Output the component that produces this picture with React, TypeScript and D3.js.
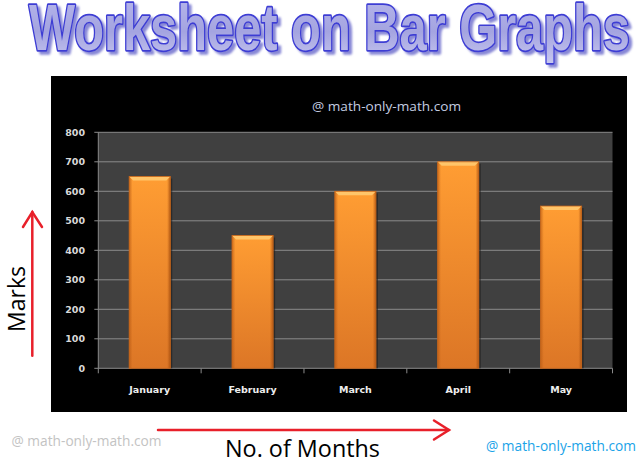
import React from "react";
import * as d3 from "d3";

const months = ["January", "February", "March", "April", "May"];
const marks = [650, 450, 600, 700, 550];
const yTicks = [0, 100, 200, 300, 400, 500, 600, 700, 800];
const title = "Worksheet on Bar Graphs";
const watermark = "@ math-only-math.com";
const xTitle = "No. of Months";
const yTitle = "Marks";

const W = 640;
const H = 467;

export default function App() {
  const plot = { left: 98.3, right: 612.5, top: 132.3, bottom: 368.3 };
  const x = d3
    .scaleBand<string>()
    .domain(months)
    .range([plot.left, plot.right])
    .paddingInner(0.6)
    .paddingOuter(0.3);
  const y = d3.scaleLinear().domain([0, 800]).range([plot.bottom, plot.top]);
  const step = x.step();
  const bw = x.bandwidth();
  const boundaries = d3.range(months.length + 1).map((i) => plot.left + i * step);

  const tickFont = "'DejaVu Sans', Verdana, sans-serif";
  const textFont = "'Open Sans', 'Noto Sans', sans-serif";

  return (
    <svg
      width={W}
      height={H}
      viewBox={`0 0 ${W} ${H}`}
      style={{ position: "absolute", left: 0, top: 0, background: "#fff" }}
    >
      <defs>
        <linearGradient id="barGrad" x1="0" y1="0" x2="0" y2="1">
          <stop offset="0%" stopColor="#ff9d33" />
          <stop offset="100%" stopColor="#dc7626" />
        </linearGradient>
        <linearGradient id="barSide" x1="0" y1="0" x2="1" y2="0">
          <stop offset="0%" stopColor="#b85a14" stopOpacity="0.7" />
          <stop offset="8%" stopColor="#b85a14" stopOpacity="0" />
          <stop offset="92%" stopColor="#b85a14" stopOpacity="0" />
          <stop offset="100%" stopColor="#a04c10" stopOpacity="0.8" />
        </linearGradient>
        <linearGradient id="titleGrad" x1="0" y1="0" x2="0" y2="1">
          <stop offset="0%" stopColor="#b8b8ec" />
          <stop offset="55%" stopColor="#a4a4e0" />
          <stop offset="100%" stopColor="#c8c8f0" />
        </linearGradient>
        <filter id="titleShadow" x="-5%" y="-20%" width="110%" height="140%">
          <feGaussianBlur in="SourceAlpha" stdDeviation="1.2" result="b" />
          <feOffset in="b" dx="3" dy="3" result="o" />
          <feFlood floodColor="#8888d6" result="c" />
          <feComposite in="c" in2="o" operator="in" result="s" />
          <feMerge>
            <feMergeNode in="s" />
            <feMergeNode in="SourceGraphic" />
          </feMerge>
        </filter>
      </defs>

      {/* Title (WordArt style) */}
      <text
        x={29}
        y={50}
        textLength={601}
        lengthAdjust="spacingAndGlyphs"
        fontFamily="'Liberation Sans', Arial, sans-serif"
        fontWeight="bold"
        fontSize={64}
        fill="url(#titleGrad)"
        stroke="#3c3cd4"
        strokeWidth={3.4}
        strokeLinejoin="round"
        paintOrder="stroke"
        filter="url(#titleShadow)"
      >
        {title}
      </text>

      {/* Chart panel */}
      <rect x={51} y={76} width={576} height={336} fill="#000" />
      <text
        x={386.5}
        y={111}
        textAnchor="middle"
        fontFamily={textFont}
        fontSize={13}
        fill="#c4cde0"
        textLength={149}
        lengthAdjust="spacingAndGlyphs"
      >
        {watermark}
      </text>

      <rect
        x={plot.left}
        y={plot.top}
        width={plot.right - plot.left}
        height={plot.bottom - plot.top}
        fill="#404040"
      />

      {/* gridlines */}
      {yTicks.map((t) => (
        <line
          key={"g" + t}
          x1={plot.left - 4}
          x2={plot.right}
          y1={y(t)}
          y2={y(t)}
          stroke="#8a8a8a"
          strokeWidth={1}
        />
      ))}
      {/* y axis line */}
      <line x1={plot.left} x2={plot.left} y1={plot.top} y2={plot.bottom} stroke="#8a8a8a" />
      {/* x ticks */}
      {boundaries.map((b, i) => (
        <line key={"xt" + i} x1={b} x2={b} y1={plot.bottom} y2={plot.bottom + 5} stroke="#8a8a8a" />
      ))}

      {/* bars */}
      {months.map((m, i) => {
        const bx = x(m) as number;
        const by = y(marks[i]);
        const bh = plot.bottom - by;
        return (
          <g key={m}>
            <rect x={bx + 2} y={by + 2} width={bw} height={bh - 2} fill="#1e1e1e" opacity={0.6} />
            <rect x={bx} y={by} width={bw} height={bh} fill="url(#barGrad)" />
            <rect x={bx} y={by} width={bw} height={bh} fill="url(#barSide)" />
            <polygon
              points={`${bx},${by} ${bx + bw},${by} ${bx + bw - 4},${by + 4} ${bx + 4},${by + 4}`}
              fill="#ffc56a"
            />
            <rect x={bx} y={by} width={bw} height={bh} fill="none" stroke="#c8651a" strokeWidth={0.8} />
          </g>
        );
      })}

      {/* y tick labels */}
      {yTicks.map((t) => (
        <text
          key={"yl" + t}
          x={85}
          y={y(t)}
          dy="0.35em"
          textAnchor="end"
          fontFamily={tickFont}
          fontWeight="bold"
          fontSize={9.5}
          fill="#d9d9d9"
        >
          {t}
        </text>
      ))}
      {/* x labels */}
      {months.map((m) => (
        <text
          key={"xl" + m}
          x={(x(m) as number) + bw / 2}
          y={393}
          textAnchor="middle"
          fontFamily={tickFont}
          fontWeight="bold"
          fontSize={9.5}
          fill="#eeeeee"
        >
          {m}
        </text>
      ))}

      {/* Y axis title and arrow */}
      <text
        transform="translate(25,299) rotate(-90)"
        textAnchor="middle"
        fontFamily={textFont}
        fontSize={23}
        fill="#000"
        textLength={66}
        lengthAdjust="spacingAndGlyphs"
      >
        {yTitle}
      </text>
      <g stroke="#e8202a" strokeWidth={2.5} fill="none" strokeLinecap="round">
        <line x1={32.3} x2={32.3} y1={355.7} y2={212} />
        <polyline points="23,227 32.3,212 42,227" />
        <line x1={158} x2={449} y1={430} y2={430} />
        <polyline points="434,420.5 449,430 434,439.5" />
      </g>

      {/* X axis title */}
      <text
        x={302.5}
        y={457}
        textAnchor="middle"
        fontFamily={textFont}
        fontSize={23}
        fill="#000"
        textLength={155}
        lengthAdjust="spacingAndGlyphs"
      >
        {xTitle}
      </text>

      {/* bottom watermarks */}
      <text
        x={11.5}
        y={446}
        fontFamily={textFont}
        fontSize={14}
        fill="#c3c3c3"
        textLength={150}
        lengthAdjust="spacingAndGlyphs"
      >
        {watermark}
      </text>
      <text
        x={486}
        y={451}
        fontFamily={textFont}
        fontSize={14}
        fill="#1aa3e8"
        textLength={150}
        lengthAdjust="spacingAndGlyphs"
      >
        {watermark}
      </text>
    </svg>
  );
}
